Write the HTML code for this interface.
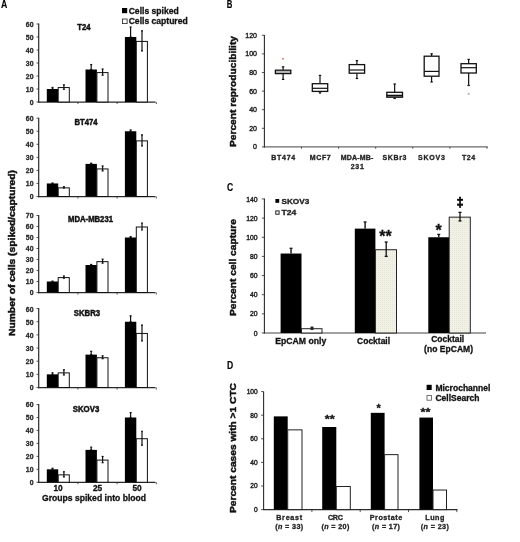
<!DOCTYPE html>
<html lang="en">
<head>
<meta charset="utf-8">
<title>Figure</title>
<style>
html,body{margin:0;padding:0;background:#fff;}
body{width:520px;height:542px;overflow:hidden;}
svg{display:block;font-family:"Liberation Sans",Arial,sans-serif;}
</style>
</head>
<body>
<svg width="520" height="542" viewBox="0 0 520 542">
<defs>
<pattern id="dots" width="2" height="2" patternUnits="userSpaceOnUse">
<rect width="2" height="2" fill="#f1f1e6"/>
<rect width="1" height="1" fill="#e6e6d8"/>
</pattern>
</defs>
<rect width="520" height="542" fill="#fff"/>
<g>
<text x="0.9" y="8" font-size="10.5" text-anchor="start" font-weight="bold" fill="#000" stroke="#000" stroke-width="0.3" textLength="6.3" lengthAdjust="spacingAndGlyphs" style="stroke-width:0.1">A</text>
<rect x="122" y="8" width="5.2" height="5.2" fill="#000"/>
<rect x="122.5" y="19" width="4.6" height="4.6" fill="#fff" stroke="#222" stroke-width="0.8"/>
<text x="128.7" y="13.6" font-size="8.56" text-anchor="start" font-weight="bold" fill="#111" stroke="#111" stroke-width="0.3" textLength="50" lengthAdjust="spacingAndGlyphs">Cells spiked</text>
<text x="128.7" y="24.4" font-size="8.56" text-anchor="start" font-weight="bold" fill="#111" stroke="#111" stroke-width="0.3" textLength="59" lengthAdjust="spacingAndGlyphs">Cells captured</text>
<line x1="38.7" y1="23.5" x2="38.7" y2="102.8" stroke="#2a2a2a" stroke-width="1.2"/>
<line x1="38.1" y1="102.2" x2="155.5" y2="102.2" stroke="#2a2a2a" stroke-width="1.2"/>
<line x1="36.5" y1="102" x2="38.7" y2="102" stroke="#2a2a2a" stroke-width="0.8"/>
<text x="33.5" y="104.9" font-size="6.9" text-anchor="end" font-weight="bold" fill="#2a2a2a" stroke="#2a2a2a" stroke-width="0.3">0</text>
<line x1="36.5" y1="89" x2="38.7" y2="89" stroke="#2a2a2a" stroke-width="0.8"/>
<text x="33.5" y="91.9" font-size="6.9" text-anchor="end" font-weight="bold" fill="#2a2a2a" stroke="#2a2a2a" stroke-width="0.3">10</text>
<line x1="36.5" y1="76" x2="38.7" y2="76" stroke="#2a2a2a" stroke-width="0.8"/>
<text x="33.5" y="78.9" font-size="6.9" text-anchor="end" font-weight="bold" fill="#2a2a2a" stroke="#2a2a2a" stroke-width="0.3">20</text>
<line x1="36.5" y1="63" x2="38.7" y2="63" stroke="#2a2a2a" stroke-width="0.8"/>
<text x="33.5" y="65.9" font-size="6.9" text-anchor="end" font-weight="bold" fill="#2a2a2a" stroke="#2a2a2a" stroke-width="0.3">30</text>
<line x1="36.5" y1="50" x2="38.7" y2="50" stroke="#2a2a2a" stroke-width="0.8"/>
<text x="33.5" y="52.9" font-size="6.9" text-anchor="end" font-weight="bold" fill="#2a2a2a" stroke="#2a2a2a" stroke-width="0.3">40</text>
<line x1="36.5" y1="37" x2="38.7" y2="37" stroke="#2a2a2a" stroke-width="0.8"/>
<text x="33.5" y="39.9" font-size="6.9" text-anchor="end" font-weight="bold" fill="#2a2a2a" stroke="#2a2a2a" stroke-width="0.3">50</text>
<line x1="36.5" y1="24" x2="38.7" y2="24" stroke="#2a2a2a" stroke-width="0.8"/>
<text x="33.5" y="26.9" font-size="6.9" text-anchor="end" font-weight="bold" fill="#2a2a2a" stroke="#2a2a2a" stroke-width="0.3">60</text>
<line x1="77.9" y1="102" x2="77.9" y2="104" stroke="#2a2a2a" stroke-width="0.8"/>
<line x1="117.1" y1="102" x2="117.1" y2="104" stroke="#2a2a2a" stroke-width="0.8"/>
<line x1="156.3" y1="102" x2="156.3" y2="104" stroke="#2a2a2a" stroke-width="0.8"/>
<text x="84" y="30" font-size="8.2" text-anchor="middle" font-weight="bold" fill="#111" stroke="#111" stroke-width="0.3" textLength="13.3" lengthAdjust="spacingAndGlyphs" style="stroke-width:0.45">T24</text>
<rect x="46.8" y="89" width="11.4" height="13" fill="#000"/>
<rect x="58.2" y="87.55" width="11.1" height="14.45" fill="#fff" stroke="#111" stroke-width="1"/>
<line x1="52.5" y1="87.44" x2="52.5" y2="89" stroke="#111" stroke-width="1.2"/>
<line x1="51.5" y1="87.44" x2="53.5" y2="87.44" stroke="#111" stroke-width="1.2"/>
<line x1="51.5" y1="89" x2="53.5" y2="89" stroke="#111" stroke-width="1.2"/>
<line x1="63.9" y1="84.84" x2="63.9" y2="89.26" stroke="#111" stroke-width="1.2"/>
<line x1="62.9" y1="84.84" x2="64.9" y2="84.84" stroke="#111" stroke-width="1.2"/>
<line x1="62.9" y1="89.26" x2="64.9" y2="89.26" stroke="#111" stroke-width="1.2"/>
<rect x="85.5" y="69.5" width="11.4" height="32.5" fill="#000"/>
<rect x="96.9" y="72.6" width="11.1" height="29.4" fill="#fff" stroke="#111" stroke-width="1"/>
<line x1="91.2" y1="64.56" x2="91.2" y2="69.5" stroke="#111" stroke-width="1.2"/>
<line x1="90.2" y1="64.56" x2="92.2" y2="64.56" stroke="#111" stroke-width="1.2"/>
<line x1="90.2" y1="69.5" x2="92.2" y2="69.5" stroke="#111" stroke-width="1.2"/>
<line x1="102.6" y1="68.98" x2="102.6" y2="75.22" stroke="#111" stroke-width="1.2"/>
<line x1="101.6" y1="68.98" x2="103.6" y2="68.98" stroke="#111" stroke-width="1.2"/>
<line x1="101.6" y1="75.22" x2="103.6" y2="75.22" stroke="#111" stroke-width="1.2"/>
<rect x="124.9" y="37" width="11.4" height="65" fill="#000"/>
<rect x="136.3" y="41.4" width="11.1" height="60.6" fill="#fff" stroke="#111" stroke-width="1"/>
<line x1="130.6" y1="26.99" x2="130.6" y2="37" stroke="#111" stroke-width="1.2"/>
<line x1="129.6" y1="26.99" x2="131.6" y2="26.99" stroke="#111" stroke-width="1.2"/>
<line x1="129.6" y1="37" x2="131.6" y2="37" stroke="#111" stroke-width="1.2"/>
<line x1="142" y1="30.89" x2="142" y2="50.91" stroke="#111" stroke-width="1.2"/>
<line x1="141" y1="30.89" x2="143" y2="30.89" stroke="#111" stroke-width="1.2"/>
<line x1="141" y1="50.91" x2="143" y2="50.91" stroke="#111" stroke-width="1.2"/>
<line x1="38.7" y1="117.7" x2="38.7" y2="197.3" stroke="#2a2a2a" stroke-width="1.2"/>
<line x1="38.1" y1="196.7" x2="155.5" y2="196.7" stroke="#2a2a2a" stroke-width="1.2"/>
<line x1="36.5" y1="196.5" x2="38.7" y2="196.5" stroke="#2a2a2a" stroke-width="0.8"/>
<text x="33.5" y="199.4" font-size="6.9" text-anchor="end" font-weight="bold" fill="#2a2a2a" stroke="#2a2a2a" stroke-width="0.3">0</text>
<line x1="36.5" y1="183.45" x2="38.7" y2="183.45" stroke="#2a2a2a" stroke-width="0.8"/>
<text x="33.5" y="186.35" font-size="6.9" text-anchor="end" font-weight="bold" fill="#2a2a2a" stroke="#2a2a2a" stroke-width="0.3">10</text>
<line x1="36.5" y1="170.4" x2="38.7" y2="170.4" stroke="#2a2a2a" stroke-width="0.8"/>
<text x="33.5" y="173.3" font-size="6.9" text-anchor="end" font-weight="bold" fill="#2a2a2a" stroke="#2a2a2a" stroke-width="0.3">20</text>
<line x1="36.5" y1="157.35" x2="38.7" y2="157.35" stroke="#2a2a2a" stroke-width="0.8"/>
<text x="33.5" y="160.25" font-size="6.9" text-anchor="end" font-weight="bold" fill="#2a2a2a" stroke="#2a2a2a" stroke-width="0.3">30</text>
<line x1="36.5" y1="144.3" x2="38.7" y2="144.3" stroke="#2a2a2a" stroke-width="0.8"/>
<text x="33.5" y="147.2" font-size="6.9" text-anchor="end" font-weight="bold" fill="#2a2a2a" stroke="#2a2a2a" stroke-width="0.3">40</text>
<line x1="36.5" y1="131.25" x2="38.7" y2="131.25" stroke="#2a2a2a" stroke-width="0.8"/>
<text x="33.5" y="134.15" font-size="6.9" text-anchor="end" font-weight="bold" fill="#2a2a2a" stroke="#2a2a2a" stroke-width="0.3">50</text>
<line x1="36.5" y1="118.2" x2="38.7" y2="118.2" stroke="#2a2a2a" stroke-width="0.8"/>
<text x="33.5" y="121.1" font-size="6.9" text-anchor="end" font-weight="bold" fill="#2a2a2a" stroke="#2a2a2a" stroke-width="0.3">60</text>
<line x1="77.9" y1="196.5" x2="77.9" y2="198.5" stroke="#2a2a2a" stroke-width="0.8"/>
<line x1="117.1" y1="196.5" x2="117.1" y2="198.5" stroke="#2a2a2a" stroke-width="0.8"/>
<line x1="156.3" y1="196.5" x2="156.3" y2="198.5" stroke="#2a2a2a" stroke-width="0.8"/>
<text x="86" y="125.3" font-size="8.2" text-anchor="middle" font-weight="bold" fill="#111" stroke="#111" stroke-width="0.3" textLength="23" lengthAdjust="spacingAndGlyphs" style="stroke-width:0.45">BT474</text>
<rect x="46.8" y="183.45" width="11.4" height="13.05" fill="#000"/>
<rect x="58.2" y="187.87" width="11.1" height="8.63" fill="#fff" stroke="#111" stroke-width="1"/>
<line x1="52.5" y1="183.06" x2="52.5" y2="183.45" stroke="#111" stroke-width="1.2"/>
<line x1="51.5" y1="183.06" x2="53.5" y2="183.06" stroke="#111" stroke-width="1.2"/>
<line x1="51.5" y1="183.45" x2="53.5" y2="183.45" stroke="#111" stroke-width="1.2"/>
<line x1="63.9" y1="186.71" x2="63.9" y2="188.02" stroke="#111" stroke-width="1.2"/>
<line x1="62.9" y1="186.71" x2="64.9" y2="186.71" stroke="#111" stroke-width="1.2"/>
<line x1="62.9" y1="188.02" x2="64.9" y2="188.02" stroke="#111" stroke-width="1.2"/>
<rect x="85.5" y="163.88" width="11.4" height="32.62" fill="#000"/>
<rect x="96.9" y="168.94" width="11.1" height="27.56" fill="#fff" stroke="#111" stroke-width="1"/>
<line x1="91.2" y1="163.22" x2="91.2" y2="163.88" stroke="#111" stroke-width="1.2"/>
<line x1="90.2" y1="163.22" x2="92.2" y2="163.22" stroke="#111" stroke-width="1.2"/>
<line x1="90.2" y1="163.88" x2="92.2" y2="163.88" stroke="#111" stroke-width="1.2"/>
<line x1="102.6" y1="165.96" x2="102.6" y2="170.92" stroke="#111" stroke-width="1.2"/>
<line x1="101.6" y1="165.96" x2="103.6" y2="165.96" stroke="#111" stroke-width="1.2"/>
<line x1="101.6" y1="170.92" x2="103.6" y2="170.92" stroke="#111" stroke-width="1.2"/>
<rect x="124.9" y="131.25" width="11.4" height="65.25" fill="#000"/>
<rect x="136.3" y="140.88" width="11.1" height="55.61" fill="#fff" stroke="#111" stroke-width="1"/>
<line x1="130.6" y1="129.94" x2="130.6" y2="131.25" stroke="#111" stroke-width="1.2"/>
<line x1="129.6" y1="129.94" x2="131.6" y2="129.94" stroke="#111" stroke-width="1.2"/>
<line x1="129.6" y1="131.25" x2="131.6" y2="131.25" stroke="#111" stroke-width="1.2"/>
<line x1="142" y1="134.9" x2="142" y2="145.87" stroke="#111" stroke-width="1.2"/>
<line x1="141" y1="134.9" x2="143" y2="134.9" stroke="#111" stroke-width="1.2"/>
<line x1="141" y1="145.87" x2="143" y2="145.87" stroke="#111" stroke-width="1.2"/>
<line x1="38.7" y1="215" x2="38.7" y2="293.3" stroke="#2a2a2a" stroke-width="1.2"/>
<line x1="38.1" y1="292.7" x2="155.5" y2="292.7" stroke="#2a2a2a" stroke-width="1.2"/>
<line x1="36.5" y1="292.5" x2="38.7" y2="292.5" stroke="#2a2a2a" stroke-width="0.8"/>
<text x="33.5" y="295.4" font-size="6.9" text-anchor="end" font-weight="bold" fill="#2a2a2a" stroke="#2a2a2a" stroke-width="0.3">0</text>
<line x1="36.5" y1="281.5" x2="38.7" y2="281.5" stroke="#2a2a2a" stroke-width="0.8"/>
<text x="33.5" y="284.4" font-size="6.9" text-anchor="end" font-weight="bold" fill="#2a2a2a" stroke="#2a2a2a" stroke-width="0.3">10</text>
<line x1="36.5" y1="270.5" x2="38.7" y2="270.5" stroke="#2a2a2a" stroke-width="0.8"/>
<text x="33.5" y="273.4" font-size="6.9" text-anchor="end" font-weight="bold" fill="#2a2a2a" stroke="#2a2a2a" stroke-width="0.3">20</text>
<line x1="36.5" y1="259.5" x2="38.7" y2="259.5" stroke="#2a2a2a" stroke-width="0.8"/>
<text x="33.5" y="262.4" font-size="6.9" text-anchor="end" font-weight="bold" fill="#2a2a2a" stroke="#2a2a2a" stroke-width="0.3">30</text>
<line x1="36.5" y1="248.5" x2="38.7" y2="248.5" stroke="#2a2a2a" stroke-width="0.8"/>
<text x="33.5" y="251.4" font-size="6.9" text-anchor="end" font-weight="bold" fill="#2a2a2a" stroke="#2a2a2a" stroke-width="0.3">40</text>
<line x1="36.5" y1="237.5" x2="38.7" y2="237.5" stroke="#2a2a2a" stroke-width="0.8"/>
<text x="33.5" y="240.4" font-size="6.9" text-anchor="end" font-weight="bold" fill="#2a2a2a" stroke="#2a2a2a" stroke-width="0.3">50</text>
<line x1="36.5" y1="226.5" x2="38.7" y2="226.5" stroke="#2a2a2a" stroke-width="0.8"/>
<text x="33.5" y="229.4" font-size="6.9" text-anchor="end" font-weight="bold" fill="#2a2a2a" stroke="#2a2a2a" stroke-width="0.3">60</text>
<line x1="36.5" y1="215.5" x2="38.7" y2="215.5" stroke="#2a2a2a" stroke-width="0.8"/>
<text x="33.5" y="218.4" font-size="6.9" text-anchor="end" font-weight="bold" fill="#2a2a2a" stroke="#2a2a2a" stroke-width="0.3">70</text>
<line x1="77.9" y1="292.5" x2="77.9" y2="294.5" stroke="#2a2a2a" stroke-width="0.8"/>
<line x1="117.1" y1="292.5" x2="117.1" y2="294.5" stroke="#2a2a2a" stroke-width="0.8"/>
<line x1="156.3" y1="292.5" x2="156.3" y2="294.5" stroke="#2a2a2a" stroke-width="0.8"/>
<text x="90.5" y="221.9" font-size="8.2" text-anchor="middle" font-weight="bold" fill="#111" stroke="#111" stroke-width="0.3" textLength="45" lengthAdjust="spacingAndGlyphs" style="stroke-width:0.45">MDA-MB231</text>
<rect x="46.8" y="281.5" width="11.4" height="11" fill="#000"/>
<rect x="58.2" y="277.6" width="11.1" height="14.9" fill="#fff" stroke="#111" stroke-width="1"/>
<line x1="52.5" y1="281.17" x2="52.5" y2="281.5" stroke="#111" stroke-width="1.2"/>
<line x1="51.5" y1="281.17" x2="53.5" y2="281.17" stroke="#111" stroke-width="1.2"/>
<line x1="51.5" y1="281.5" x2="53.5" y2="281.5" stroke="#111" stroke-width="1.2"/>
<line x1="63.9" y1="276" x2="63.9" y2="278.2" stroke="#111" stroke-width="1.2"/>
<line x1="62.9" y1="276" x2="64.9" y2="276" stroke="#111" stroke-width="1.2"/>
<line x1="62.9" y1="278.2" x2="64.9" y2="278.2" stroke="#111" stroke-width="1.2"/>
<rect x="85.5" y="265" width="11.4" height="27.5" fill="#000"/>
<rect x="96.9" y="261.65" width="11.1" height="30.85" fill="#fff" stroke="#111" stroke-width="1"/>
<line x1="91.2" y1="264.45" x2="91.2" y2="265" stroke="#111" stroke-width="1.2"/>
<line x1="90.2" y1="264.45" x2="92.2" y2="264.45" stroke="#111" stroke-width="1.2"/>
<line x1="90.2" y1="265" x2="92.2" y2="265" stroke="#111" stroke-width="1.2"/>
<line x1="102.6" y1="259.17" x2="102.6" y2="263.13" stroke="#111" stroke-width="1.2"/>
<line x1="101.6" y1="259.17" x2="103.6" y2="259.17" stroke="#111" stroke-width="1.2"/>
<line x1="101.6" y1="263.13" x2="103.6" y2="263.13" stroke="#111" stroke-width="1.2"/>
<rect x="124.9" y="237.5" width="11.4" height="55" fill="#000"/>
<rect x="136.3" y="227" width="11.1" height="65.5" fill="#fff" stroke="#111" stroke-width="1"/>
<line x1="130.6" y1="236.62" x2="130.6" y2="237.5" stroke="#111" stroke-width="1.2"/>
<line x1="129.6" y1="236.62" x2="131.6" y2="236.62" stroke="#111" stroke-width="1.2"/>
<line x1="129.6" y1="237.5" x2="131.6" y2="237.5" stroke="#111" stroke-width="1.2"/>
<line x1="142" y1="222.98" x2="142" y2="230.02" stroke="#111" stroke-width="1.2"/>
<line x1="141" y1="222.98" x2="143" y2="222.98" stroke="#111" stroke-width="1.2"/>
<line x1="141" y1="230.02" x2="143" y2="230.02" stroke="#111" stroke-width="1.2"/>
<line x1="38.7" y1="308.1" x2="38.7" y2="388.3" stroke="#2a2a2a" stroke-width="1.2"/>
<line x1="38.1" y1="387.7" x2="155.5" y2="387.7" stroke="#2a2a2a" stroke-width="1.2"/>
<line x1="36.5" y1="387.5" x2="38.7" y2="387.5" stroke="#2a2a2a" stroke-width="0.8"/>
<text x="33.5" y="390.4" font-size="6.9" text-anchor="end" font-weight="bold" fill="#2a2a2a" stroke="#2a2a2a" stroke-width="0.3">0</text>
<line x1="36.5" y1="374.35" x2="38.7" y2="374.35" stroke="#2a2a2a" stroke-width="0.8"/>
<text x="33.5" y="377.25" font-size="6.9" text-anchor="end" font-weight="bold" fill="#2a2a2a" stroke="#2a2a2a" stroke-width="0.3">10</text>
<line x1="36.5" y1="361.2" x2="38.7" y2="361.2" stroke="#2a2a2a" stroke-width="0.8"/>
<text x="33.5" y="364.1" font-size="6.9" text-anchor="end" font-weight="bold" fill="#2a2a2a" stroke="#2a2a2a" stroke-width="0.3">20</text>
<line x1="36.5" y1="348.05" x2="38.7" y2="348.05" stroke="#2a2a2a" stroke-width="0.8"/>
<text x="33.5" y="350.95" font-size="6.9" text-anchor="end" font-weight="bold" fill="#2a2a2a" stroke="#2a2a2a" stroke-width="0.3">30</text>
<line x1="36.5" y1="334.9" x2="38.7" y2="334.9" stroke="#2a2a2a" stroke-width="0.8"/>
<text x="33.5" y="337.8" font-size="6.9" text-anchor="end" font-weight="bold" fill="#2a2a2a" stroke="#2a2a2a" stroke-width="0.3">40</text>
<line x1="36.5" y1="321.75" x2="38.7" y2="321.75" stroke="#2a2a2a" stroke-width="0.8"/>
<text x="33.5" y="324.65" font-size="6.9" text-anchor="end" font-weight="bold" fill="#2a2a2a" stroke="#2a2a2a" stroke-width="0.3">50</text>
<line x1="36.5" y1="308.6" x2="38.7" y2="308.6" stroke="#2a2a2a" stroke-width="0.8"/>
<text x="33.5" y="311.5" font-size="6.9" text-anchor="end" font-weight="bold" fill="#2a2a2a" stroke="#2a2a2a" stroke-width="0.3">60</text>
<line x1="77.9" y1="387.5" x2="77.9" y2="389.5" stroke="#2a2a2a" stroke-width="0.8"/>
<line x1="117.1" y1="387.5" x2="117.1" y2="389.5" stroke="#2a2a2a" stroke-width="0.8"/>
<line x1="156.3" y1="387.5" x2="156.3" y2="389.5" stroke="#2a2a2a" stroke-width="0.8"/>
<text x="87" y="315.7" font-size="8.2" text-anchor="middle" font-weight="bold" fill="#111" stroke="#111" stroke-width="0.3" textLength="26.3" lengthAdjust="spacingAndGlyphs" style="stroke-width:0.45">SKBR3</text>
<rect x="46.8" y="374.35" width="11.4" height="13.15" fill="#000"/>
<rect x="58.2" y="372.88" width="11.1" height="14.62" fill="#fff" stroke="#111" stroke-width="1"/>
<line x1="52.5" y1="372.77" x2="52.5" y2="374.35" stroke="#111" stroke-width="1.2"/>
<line x1="51.5" y1="372.77" x2="53.5" y2="372.77" stroke="#111" stroke-width="1.2"/>
<line x1="51.5" y1="374.35" x2="53.5" y2="374.35" stroke="#111" stroke-width="1.2"/>
<line x1="63.9" y1="369.75" x2="63.9" y2="375.01" stroke="#111" stroke-width="1.2"/>
<line x1="62.9" y1="369.75" x2="64.9" y2="369.75" stroke="#111" stroke-width="1.2"/>
<line x1="62.9" y1="375.01" x2="64.9" y2="375.01" stroke="#111" stroke-width="1.2"/>
<rect x="85.5" y="354.62" width="11.4" height="32.88" fill="#000"/>
<rect x="96.9" y="357.75" width="11.1" height="29.74" fill="#fff" stroke="#111" stroke-width="1"/>
<line x1="91.2" y1="351.34" x2="91.2" y2="354.62" stroke="#111" stroke-width="1.2"/>
<line x1="90.2" y1="351.34" x2="92.2" y2="351.34" stroke="#111" stroke-width="1.2"/>
<line x1="90.2" y1="354.62" x2="92.2" y2="354.62" stroke="#111" stroke-width="1.2"/>
<line x1="102.6" y1="355.81" x2="102.6" y2="358.7" stroke="#111" stroke-width="1.2"/>
<line x1="101.6" y1="355.81" x2="103.6" y2="355.81" stroke="#111" stroke-width="1.2"/>
<line x1="101.6" y1="358.7" x2="103.6" y2="358.7" stroke="#111" stroke-width="1.2"/>
<rect x="124.9" y="321.75" width="11.4" height="65.75" fill="#000"/>
<rect x="136.3" y="333.43" width="11.1" height="54.07" fill="#fff" stroke="#111" stroke-width="1"/>
<line x1="130.6" y1="315.83" x2="130.6" y2="321.75" stroke="#111" stroke-width="1.2"/>
<line x1="129.6" y1="315.83" x2="131.6" y2="315.83" stroke="#111" stroke-width="1.2"/>
<line x1="129.6" y1="321.75" x2="131.6" y2="321.75" stroke="#111" stroke-width="1.2"/>
<line x1="142" y1="325.04" x2="142" y2="340.82" stroke="#111" stroke-width="1.2"/>
<line x1="141" y1="325.04" x2="143" y2="325.04" stroke="#111" stroke-width="1.2"/>
<line x1="141" y1="340.82" x2="143" y2="340.82" stroke="#111" stroke-width="1.2"/>
<line x1="38.7" y1="404.05" x2="38.7" y2="483.05" stroke="#2a2a2a" stroke-width="1.2"/>
<line x1="38.1" y1="482.45" x2="155.5" y2="482.45" stroke="#2a2a2a" stroke-width="1.2"/>
<line x1="36.5" y1="482.25" x2="38.7" y2="482.25" stroke="#2a2a2a" stroke-width="0.8"/>
<text x="33.5" y="485.15" font-size="6.9" text-anchor="end" font-weight="bold" fill="#2a2a2a" stroke="#2a2a2a" stroke-width="0.3">0</text>
<line x1="36.5" y1="469.3" x2="38.7" y2="469.3" stroke="#2a2a2a" stroke-width="0.8"/>
<text x="33.5" y="472.2" font-size="6.9" text-anchor="end" font-weight="bold" fill="#2a2a2a" stroke="#2a2a2a" stroke-width="0.3">10</text>
<line x1="36.5" y1="456.35" x2="38.7" y2="456.35" stroke="#2a2a2a" stroke-width="0.8"/>
<text x="33.5" y="459.25" font-size="6.9" text-anchor="end" font-weight="bold" fill="#2a2a2a" stroke="#2a2a2a" stroke-width="0.3">20</text>
<line x1="36.5" y1="443.4" x2="38.7" y2="443.4" stroke="#2a2a2a" stroke-width="0.8"/>
<text x="33.5" y="446.3" font-size="6.9" text-anchor="end" font-weight="bold" fill="#2a2a2a" stroke="#2a2a2a" stroke-width="0.3">30</text>
<line x1="36.5" y1="430.45" x2="38.7" y2="430.45" stroke="#2a2a2a" stroke-width="0.8"/>
<text x="33.5" y="433.35" font-size="6.9" text-anchor="end" font-weight="bold" fill="#2a2a2a" stroke="#2a2a2a" stroke-width="0.3">40</text>
<line x1="36.5" y1="417.5" x2="38.7" y2="417.5" stroke="#2a2a2a" stroke-width="0.8"/>
<text x="33.5" y="420.4" font-size="6.9" text-anchor="end" font-weight="bold" fill="#2a2a2a" stroke="#2a2a2a" stroke-width="0.3">50</text>
<line x1="36.5" y1="404.55" x2="38.7" y2="404.55" stroke="#2a2a2a" stroke-width="0.8"/>
<text x="33.5" y="407.45" font-size="6.9" text-anchor="end" font-weight="bold" fill="#2a2a2a" stroke="#2a2a2a" stroke-width="0.3">60</text>
<line x1="77.9" y1="482.25" x2="77.9" y2="484.25" stroke="#2a2a2a" stroke-width="0.8"/>
<line x1="117.1" y1="482.25" x2="117.1" y2="484.25" stroke="#2a2a2a" stroke-width="0.8"/>
<line x1="156.3" y1="482.25" x2="156.3" y2="484.25" stroke="#2a2a2a" stroke-width="0.8"/>
<text x="86" y="412" font-size="8.2" text-anchor="middle" font-weight="bold" fill="#111" stroke="#111" stroke-width="0.3" textLength="26.5" lengthAdjust="spacingAndGlyphs" style="stroke-width:0.45">SKOV3</text>
<rect x="46.8" y="469.3" width="11.4" height="12.95" fill="#000"/>
<rect x="58.2" y="474.85" width="11.1" height="7.4" fill="#fff" stroke="#111" stroke-width="1"/>
<line x1="52.5" y1="468.26" x2="52.5" y2="469.3" stroke="#111" stroke-width="1.2"/>
<line x1="51.5" y1="468.26" x2="53.5" y2="468.26" stroke="#111" stroke-width="1.2"/>
<line x1="51.5" y1="469.3" x2="53.5" y2="469.3" stroke="#111" stroke-width="1.2"/>
<line x1="63.9" y1="471.76" x2="63.9" y2="476.94" stroke="#111" stroke-width="1.2"/>
<line x1="62.9" y1="471.76" x2="64.9" y2="471.76" stroke="#111" stroke-width="1.2"/>
<line x1="62.9" y1="476.94" x2="64.9" y2="476.94" stroke="#111" stroke-width="1.2"/>
<rect x="85.5" y="449.88" width="11.4" height="32.38" fill="#000"/>
<rect x="96.9" y="460.09" width="11.1" height="22.16" fill="#fff" stroke="#111" stroke-width="1"/>
<line x1="91.2" y1="447.16" x2="91.2" y2="449.88" stroke="#111" stroke-width="1.2"/>
<line x1="90.2" y1="447.16" x2="92.2" y2="447.16" stroke="#111" stroke-width="1.2"/>
<line x1="90.2" y1="449.88" x2="92.2" y2="449.88" stroke="#111" stroke-width="1.2"/>
<line x1="102.6" y1="456.48" x2="102.6" y2="462.7" stroke="#111" stroke-width="1.2"/>
<line x1="101.6" y1="456.48" x2="103.6" y2="456.48" stroke="#111" stroke-width="1.2"/>
<line x1="101.6" y1="462.7" x2="103.6" y2="462.7" stroke="#111" stroke-width="1.2"/>
<rect x="124.9" y="417.5" width="11.4" height="64.75" fill="#000"/>
<rect x="136.3" y="438.72" width="11.1" height="43.53" fill="#fff" stroke="#111" stroke-width="1"/>
<line x1="130.6" y1="412.58" x2="130.6" y2="417.5" stroke="#111" stroke-width="1.2"/>
<line x1="129.6" y1="412.58" x2="131.6" y2="412.58" stroke="#111" stroke-width="1.2"/>
<line x1="129.6" y1="417.5" x2="131.6" y2="417.5" stroke="#111" stroke-width="1.2"/>
<line x1="142" y1="431.23" x2="142" y2="445.21" stroke="#111" stroke-width="1.2"/>
<line x1="141" y1="431.23" x2="143" y2="431.23" stroke="#111" stroke-width="1.2"/>
<line x1="141" y1="445.21" x2="143" y2="445.21" stroke="#111" stroke-width="1.2"/>
<text x="58" y="490.9" font-size="8.3" text-anchor="middle" font-weight="bold" fill="#111" stroke="#111" stroke-width="0.3">10</text>
<text x="97.5" y="490.9" font-size="8.3" text-anchor="middle" font-weight="bold" fill="#111" stroke="#111" stroke-width="0.3">25</text>
<text x="137" y="490.9" font-size="8.3" text-anchor="middle" font-weight="bold" fill="#111" stroke="#111" stroke-width="0.3">50</text>
<text x="42" y="501.2" font-size="8.59" text-anchor="start" font-weight="bold" fill="#111" stroke="#111" stroke-width="0.3" textLength="104" lengthAdjust="spacingAndGlyphs">Groups spiked into blood</text>
<text x="15.2" y="336" font-size="8.6" text-anchor="start" font-weight="bold" fill="#111" stroke="#111" stroke-width="0.3" textLength="166" lengthAdjust="spacingAndGlyphs" transform="rotate(-90 15.2 336)" style="stroke-width:0.45">Number of cells (spiked/captured)</text>
<text x="226.8" y="8.1" font-size="10.3" text-anchor="start" font-weight="bold" fill="#000" stroke="#000" stroke-width="0.3" textLength="5.6" lengthAdjust="spacingAndGlyphs" style="stroke-width:0.15">B</text>
<line x1="264.4" y1="34.9" x2="264.4" y2="147.4" stroke="#2a2a2a" stroke-width="1.1"/>
<line x1="263.9" y1="146.9" x2="487.7" y2="146.9" stroke="#444" stroke-width="1"/>
<line x1="261.9" y1="146.9" x2="264.4" y2="146.9" stroke="#2a2a2a" stroke-width="0.8"/>
<text x="257" y="149.4" font-size="7" text-anchor="end" font-weight="normal" fill="#222" stroke="#222" stroke-width="0.3" style="stroke-width:0.4">0</text>
<line x1="261.9" y1="128.3" x2="264.4" y2="128.3" stroke="#2a2a2a" stroke-width="0.8"/>
<text x="257" y="130.8" font-size="7" text-anchor="end" font-weight="normal" fill="#222" stroke="#222" stroke-width="0.3" style="stroke-width:0.4">20</text>
<line x1="261.9" y1="109.7" x2="264.4" y2="109.7" stroke="#2a2a2a" stroke-width="0.8"/>
<text x="257" y="112.2" font-size="7" text-anchor="end" font-weight="normal" fill="#222" stroke="#222" stroke-width="0.3" style="stroke-width:0.4">40</text>
<line x1="261.9" y1="91.1" x2="264.4" y2="91.1" stroke="#2a2a2a" stroke-width="0.8"/>
<text x="257" y="93.6" font-size="7" text-anchor="end" font-weight="normal" fill="#222" stroke="#222" stroke-width="0.3" style="stroke-width:0.4">60</text>
<line x1="261.9" y1="72.5" x2="264.4" y2="72.5" stroke="#2a2a2a" stroke-width="0.8"/>
<text x="257" y="75" font-size="7" text-anchor="end" font-weight="normal" fill="#222" stroke="#222" stroke-width="0.3" style="stroke-width:0.4">80</text>
<line x1="261.9" y1="53.9" x2="264.4" y2="53.9" stroke="#2a2a2a" stroke-width="0.8"/>
<text x="257" y="56.4" font-size="7" text-anchor="end" font-weight="normal" fill="#222" stroke="#222" stroke-width="0.3" style="stroke-width:0.4">100</text>
<line x1="261.9" y1="35.3" x2="264.4" y2="35.3" stroke="#2a2a2a" stroke-width="0.8"/>
<text x="257" y="37.8" font-size="7" text-anchor="end" font-weight="normal" fill="#222" stroke="#222" stroke-width="0.3" style="stroke-width:0.4">120</text>
<line x1="301.5" y1="146.9" x2="301.5" y2="148.7" stroke="#2a2a2a" stroke-width="0.8"/>
<line x1="338.6" y1="146.9" x2="338.6" y2="148.7" stroke="#2a2a2a" stroke-width="0.8"/>
<line x1="375.7" y1="146.9" x2="375.7" y2="148.7" stroke="#2a2a2a" stroke-width="0.8"/>
<line x1="412.8" y1="146.9" x2="412.8" y2="148.7" stroke="#2a2a2a" stroke-width="0.8"/>
<line x1="449.9" y1="146.9" x2="449.9" y2="148.7" stroke="#2a2a2a" stroke-width="0.8"/>
<line x1="487" y1="146.9" x2="487" y2="148.7" stroke="#2a2a2a" stroke-width="0.8"/>
<line x1="283.1" y1="66.8" x2="283.1" y2="70.2" stroke="#111" stroke-width="1.2"/>
<line x1="283.1" y1="73.6" x2="283.1" y2="79.4" stroke="#111" stroke-width="1.2"/>
<line x1="281.9" y1="66.8" x2="284.3" y2="66.8" stroke="#111" stroke-width="1.2"/>
<line x1="281.9" y1="79.4" x2="284.3" y2="79.4" stroke="#111" stroke-width="1.2"/>
<rect x="275.4" y="70.2" width="15.4" height="3.4" fill="#fff" stroke="#111" stroke-width="1.3"/>
<line x1="275.4" y1="72" x2="290.8" y2="72" stroke="#111" stroke-width="0.6"/>
<line x1="320" y1="75.4" x2="320" y2="83.7" stroke="#111" stroke-width="1.2"/>
<line x1="320" y1="91.4" x2="320" y2="93" stroke="#111" stroke-width="1.2"/>
<line x1="318.8" y1="75.4" x2="321.2" y2="75.4" stroke="#111" stroke-width="1.2"/>
<line x1="318.8" y1="93" x2="321.2" y2="93" stroke="#111" stroke-width="1.2"/>
<rect x="312.3" y="83.7" width="15.4" height="7.7" fill="#fff" stroke="#111" stroke-width="1.3"/>
<line x1="312.3" y1="88.3" x2="327.7" y2="88.3" stroke="#111" stroke-width="1.2"/>
<line x1="356.9" y1="60.6" x2="356.9" y2="64.6" stroke="#111" stroke-width="1.2"/>
<line x1="356.9" y1="73.2" x2="356.9" y2="78.5" stroke="#111" stroke-width="1.2"/>
<line x1="355.7" y1="60.6" x2="358.1" y2="60.6" stroke="#111" stroke-width="1.2"/>
<line x1="355.7" y1="78.5" x2="358.1" y2="78.5" stroke="#111" stroke-width="1.2"/>
<rect x="349.2" y="64.6" width="15.4" height="8.6" fill="#fff" stroke="#111" stroke-width="1.3"/>
<line x1="349.2" y1="70" x2="364.6" y2="70" stroke="#111" stroke-width="1.2"/>
<line x1="394.65" y1="84" x2="394.65" y2="92.3" stroke="#111" stroke-width="1.2"/>
<line x1="394.65" y1="97.2" x2="394.65" y2="98.5" stroke="#111" stroke-width="1.2"/>
<line x1="393.45" y1="84" x2="395.85" y2="84" stroke="#111" stroke-width="1.2"/>
<line x1="393.45" y1="98.5" x2="395.85" y2="98.5" stroke="#111" stroke-width="1.2"/>
<rect x="386.8" y="92.3" width="15.7" height="4.9" fill="#fff" stroke="#111" stroke-width="1.3"/>
<line x1="386.8" y1="95.6" x2="402.5" y2="95.6" stroke="#111" stroke-width="1.8"/>
<line x1="431.6" y1="53.8" x2="431.6" y2="56.2" stroke="#111" stroke-width="1.2"/>
<line x1="431.6" y1="76.2" x2="431.6" y2="82" stroke="#111" stroke-width="1.2"/>
<line x1="430.4" y1="53.8" x2="432.8" y2="53.8" stroke="#111" stroke-width="1.2"/>
<line x1="430.4" y1="82" x2="432.8" y2="82" stroke="#111" stroke-width="1.2"/>
<rect x="424.2" y="56.2" width="14.8" height="20" fill="#fff" stroke="#111" stroke-width="1.3"/>
<line x1="424.2" y1="71.4" x2="439" y2="71.4" stroke="#111" stroke-width="1.2"/>
<line x1="468.65" y1="59.4" x2="468.65" y2="63.7" stroke="#111" stroke-width="1.2"/>
<line x1="468.65" y1="73" x2="468.65" y2="85.5" stroke="#111" stroke-width="1.2"/>
<line x1="467.45" y1="59.4" x2="469.85" y2="59.4" stroke="#111" stroke-width="1.2"/>
<line x1="467.45" y1="85.5" x2="469.85" y2="85.5" stroke="#111" stroke-width="1.2"/>
<rect x="461" y="63.7" width="15.3" height="9.3" fill="#fff" stroke="#111" stroke-width="1.3"/>
<line x1="461" y1="67.7" x2="476.3" y2="67.7" stroke="#111" stroke-width="1.2"/>
<text x="283" y="60" font-size="4" text-anchor="middle" font-weight="normal" fill="#d77" stroke="#d77" stroke-width="0.3">×</text>
<text x="468.6" y="95.3" font-size="4" text-anchor="middle" font-weight="normal" fill="#a99" stroke="#a99" stroke-width="0.3">×</text>
<text x="283.2" y="160" font-size="7" text-anchor="middle" font-weight="bold" fill="#222" stroke="#222" stroke-width="0.3" textLength="24" lengthAdjust="spacing">BT474</text>
<text x="320.2" y="160" font-size="7" text-anchor="middle" font-weight="bold" fill="#222" stroke="#222" stroke-width="0.3" textLength="21" lengthAdjust="spacing">MCF7</text>
<text x="357" y="160" font-size="7" text-anchor="middle" font-weight="bold" fill="#222" stroke="#222" stroke-width="0.3" textLength="32.5" lengthAdjust="spacing">MDA-MB-</text>
<text x="394.5" y="160" font-size="7" text-anchor="middle" font-weight="bold" fill="#222" stroke="#222" stroke-width="0.3" textLength="24" lengthAdjust="spacing">SKBr3</text>
<text x="431.5" y="160" font-size="7" text-anchor="middle" font-weight="bold" fill="#222" stroke="#222" stroke-width="0.3" textLength="27" lengthAdjust="spacing">SKOV3</text>
<text x="468.6" y="160" font-size="7" text-anchor="middle" font-weight="bold" fill="#222" stroke="#222" stroke-width="0.3" textLength="13" lengthAdjust="spacing">T24</text>
<text x="357.3" y="169" font-size="7" text-anchor="middle" font-weight="bold" fill="#222" stroke="#222" stroke-width="0.3" textLength="13" lengthAdjust="spacing">231</text>
<text x="235.5" y="147" font-size="9.3" text-anchor="start" font-weight="bold" fill="#111" stroke="#111" stroke-width="0.3" textLength="111" lengthAdjust="spacingAndGlyphs" transform="rotate(-90 235.5 147)" style="stroke-width:0.45">Percent reproducibility</text>
<text x="227" y="191" font-size="10.6" text-anchor="start" font-weight="bold" fill="#000" stroke="#000" stroke-width="0.3" textLength="6.2" lengthAdjust="spacingAndGlyphs" style="stroke-width:0.15">C</text>
<line x1="264.4" y1="198.5" x2="264.4" y2="333.5" stroke="#2a2a2a" stroke-width="1.1"/>
<line x1="263.9" y1="333" x2="486" y2="333" stroke="#444" stroke-width="1"/>
<line x1="261.8" y1="333" x2="264.4" y2="333" stroke="#2a2a2a" stroke-width="0.8"/>
<text x="257.6" y="335.6" font-size="6.8" text-anchor="end" font-weight="normal" fill="#222" stroke="#222" stroke-width="0.3" style="stroke-width:0.4">0</text>
<line x1="261.8" y1="313.85" x2="264.4" y2="313.85" stroke="#2a2a2a" stroke-width="0.8"/>
<text x="257.6" y="316.45" font-size="6.8" text-anchor="end" font-weight="normal" fill="#222" stroke="#222" stroke-width="0.3" style="stroke-width:0.4">20</text>
<line x1="261.8" y1="294.7" x2="264.4" y2="294.7" stroke="#2a2a2a" stroke-width="0.8"/>
<text x="257.6" y="297.3" font-size="6.8" text-anchor="end" font-weight="normal" fill="#222" stroke="#222" stroke-width="0.3" style="stroke-width:0.4">40</text>
<line x1="261.8" y1="275.55" x2="264.4" y2="275.55" stroke="#2a2a2a" stroke-width="0.8"/>
<text x="257.6" y="278.15" font-size="6.8" text-anchor="end" font-weight="normal" fill="#222" stroke="#222" stroke-width="0.3" style="stroke-width:0.4">60</text>
<line x1="261.8" y1="256.4" x2="264.4" y2="256.4" stroke="#2a2a2a" stroke-width="0.8"/>
<text x="257.6" y="259" font-size="6.8" text-anchor="end" font-weight="normal" fill="#222" stroke="#222" stroke-width="0.3" style="stroke-width:0.4">80</text>
<line x1="261.8" y1="237.25" x2="264.4" y2="237.25" stroke="#2a2a2a" stroke-width="0.8"/>
<text x="257.6" y="239.85" font-size="6.8" text-anchor="end" font-weight="normal" fill="#222" stroke="#222" stroke-width="0.3" style="stroke-width:0.4">100</text>
<line x1="261.8" y1="218.1" x2="264.4" y2="218.1" stroke="#2a2a2a" stroke-width="0.8"/>
<text x="257.6" y="220.7" font-size="6.8" text-anchor="end" font-weight="normal" fill="#222" stroke="#222" stroke-width="0.3" style="stroke-width:0.4">120</text>
<line x1="261.8" y1="198.95" x2="264.4" y2="198.95" stroke="#2a2a2a" stroke-width="0.8"/>
<text x="257.6" y="201.55" font-size="6.8" text-anchor="end" font-weight="normal" fill="#222" stroke="#222" stroke-width="0.3" style="stroke-width:0.4">140</text>
<rect x="280.6" y="253.53" width="20.9" height="79.47" fill="#000"/>
<rect x="301.5" y="328.71" width="20.5" height="4.29" fill="#fff" stroke="#222" stroke-width="1"/>
<line x1="291.05" y1="248.26" x2="291.05" y2="253.53" stroke="#111" stroke-width="1.4"/>
<line x1="289.55" y1="248.26" x2="292.55" y2="248.26" stroke="#111" stroke-width="1.2"/>
<line x1="312" y1="327.25" x2="312" y2="329.17" stroke="#111" stroke-width="1.3"/>
<line x1="310.5" y1="327.25" x2="313.5" y2="327.25" stroke="#111" stroke-width="1.3"/>
<line x1="310.5" y1="329.17" x2="313.5" y2="329.17" stroke="#111" stroke-width="1.3"/>
<rect x="354.8" y="228.63" width="20.6" height="104.37" fill="#000"/>
<rect x="375.4" y="249.72" width="21.1" height="83.28" fill="url(#dots)" stroke="#222" stroke-width="1"/>
<line x1="365.1" y1="221.93" x2="365.1" y2="228.63" stroke="#111" stroke-width="1.4"/>
<line x1="363.6" y1="221.93" x2="366.6" y2="221.93" stroke="#111" stroke-width="1.2"/>
<line x1="386.2" y1="242.04" x2="386.2" y2="256.4" stroke="#111" stroke-width="1.3"/>
<line x1="384.7" y1="242.04" x2="387.7" y2="242.04" stroke="#111" stroke-width="1.3"/>
<line x1="384.7" y1="256.4" x2="387.7" y2="256.4" stroke="#111" stroke-width="1.3"/>
<rect x="428.3" y="237.25" width="20.9" height="95.75" fill="#000"/>
<rect x="449.2" y="217.16" width="21.1" height="115.84" fill="url(#dots)" stroke="#222" stroke-width="1"/>
<line x1="438.75" y1="234.38" x2="438.75" y2="237.25" stroke="#111" stroke-width="1.4"/>
<line x1="437.25" y1="234.38" x2="440.25" y2="234.38" stroke="#111" stroke-width="1.2"/>
<line x1="460" y1="212.35" x2="460" y2="220.97" stroke="#111" stroke-width="1.3"/>
<line x1="458.5" y1="212.35" x2="461.5" y2="212.35" stroke="#111" stroke-width="1.3"/>
<line x1="458.5" y1="220.97" x2="461.5" y2="220.97" stroke="#111" stroke-width="1.3"/>
<rect x="275.4" y="199" width="3.8" height="3.8" fill="#000"/>
<rect x="275.8" y="210.9" width="3.3" height="3.3" fill="#fff" stroke="#222" stroke-width="1"/>
<text x="281.5" y="203.6" font-size="7" text-anchor="start" font-weight="bold" fill="#222" stroke="#222" stroke-width="0.3" textLength="27.7" lengthAdjust="spacingAndGlyphs">SKOV3</text>
<text x="281.5" y="215.4" font-size="7" text-anchor="start" font-weight="bold" fill="#222" stroke="#222" stroke-width="0.3" textLength="14.8" lengthAdjust="spacingAndGlyphs">T24</text>
<text x="385.4" y="241.6" font-size="16" text-anchor="middle" font-weight="bold" fill="#111" stroke="#111" stroke-width="0.3" textLength="12.4" lengthAdjust="spacingAndGlyphs">**</text>
<text x="438.5" y="236.1" font-size="16" text-anchor="middle" font-weight="bold" fill="#111" stroke="#111" stroke-width="0.3">*</text>
<text x="460" y="205.8" font-size="12" text-anchor="middle" font-weight="bold" fill="#000" stroke="#000" stroke-width="0.3" style="stroke-width:0.7">‡</text>
<text x="300.8" y="344.4" font-size="8.6" text-anchor="middle" font-weight="bold" fill="#111" stroke="#111" stroke-width="0.3" textLength="51" lengthAdjust="spacingAndGlyphs">EpCAM only</text>
<text x="373.6" y="344.4" font-size="8.6" text-anchor="middle" font-weight="bold" fill="#111" stroke="#111" stroke-width="0.3" textLength="33" lengthAdjust="spacingAndGlyphs">Cocktail</text>
<text x="447.7" y="342" font-size="8.6" text-anchor="middle" font-weight="bold" fill="#111" stroke="#111" stroke-width="0.3" textLength="33" lengthAdjust="spacingAndGlyphs">Cocktail</text>
<text x="448.6" y="352.4" font-size="8.6" text-anchor="middle" font-weight="bold" fill="#111" stroke="#111" stroke-width="0.3" textLength="49" lengthAdjust="spacingAndGlyphs">(no EpCAM)</text>
<text x="235.9" y="316" font-size="9.3" text-anchor="start" font-weight="bold" fill="#111" stroke="#111" stroke-width="0.3" textLength="97" lengthAdjust="spacingAndGlyphs" transform="rotate(-90 235.9 316)" style="stroke-width:0.45">Percent cell capture</text>
<text x="227" y="368.5" font-size="10.8" text-anchor="start" font-weight="bold" fill="#000" stroke="#000" stroke-width="0.3" textLength="6.2" lengthAdjust="spacingAndGlyphs" style="stroke-width:0.15">D</text>
<line x1="263.6" y1="391.5" x2="263.6" y2="510.1" stroke="#2a2a2a" stroke-width="1.1"/>
<line x1="263.1" y1="509.6" x2="457.5" y2="509.6" stroke="#2a2a2a" stroke-width="1.1"/>
<line x1="261.1" y1="509.6" x2="263.6" y2="509.6" stroke="#2a2a2a" stroke-width="0.8"/>
<text x="257.7" y="512" font-size="6.6" text-anchor="end" font-weight="normal" fill="#222" stroke="#222" stroke-width="0.3" style="stroke-width:0.4">0</text>
<line x1="261.1" y1="486" x2="263.6" y2="486" stroke="#2a2a2a" stroke-width="0.8"/>
<text x="257.7" y="488.4" font-size="6.6" text-anchor="end" font-weight="normal" fill="#222" stroke="#222" stroke-width="0.3" style="stroke-width:0.4">20</text>
<line x1="261.1" y1="462.4" x2="263.6" y2="462.4" stroke="#2a2a2a" stroke-width="0.8"/>
<text x="257.7" y="464.8" font-size="6.6" text-anchor="end" font-weight="normal" fill="#222" stroke="#222" stroke-width="0.3" style="stroke-width:0.4">40</text>
<line x1="261.1" y1="438.8" x2="263.6" y2="438.8" stroke="#2a2a2a" stroke-width="0.8"/>
<text x="257.7" y="441.2" font-size="6.6" text-anchor="end" font-weight="normal" fill="#222" stroke="#222" stroke-width="0.3" style="stroke-width:0.4">60</text>
<line x1="261.1" y1="415.2" x2="263.6" y2="415.2" stroke="#2a2a2a" stroke-width="0.8"/>
<text x="257.7" y="417.6" font-size="6.6" text-anchor="end" font-weight="normal" fill="#222" stroke="#222" stroke-width="0.3" style="stroke-width:0.4">80</text>
<line x1="261.1" y1="391.6" x2="263.6" y2="391.6" stroke="#2a2a2a" stroke-width="0.8"/>
<text x="257.7" y="394" font-size="6.6" text-anchor="end" font-weight="normal" fill="#222" stroke="#222" stroke-width="0.3" style="stroke-width:0.4">100</text>
<line x1="311.9" y1="509.6" x2="311.9" y2="512.1" stroke="#2a2a2a" stroke-width="0.8"/>
<line x1="360.2" y1="509.6" x2="360.2" y2="512.1" stroke="#2a2a2a" stroke-width="0.8"/>
<line x1="408.5" y1="509.6" x2="408.5" y2="512.1" stroke="#2a2a2a" stroke-width="0.8"/>
<line x1="456.8" y1="509.6" x2="456.8" y2="512.1" stroke="#2a2a2a" stroke-width="0.8"/>
<rect x="273.8" y="416.38" width="13.9" height="93.22" fill="#000"/>
<rect x="287.7" y="429.86" width="14.3" height="79.74" fill="#fff" stroke="#222" stroke-width="1"/>
<rect x="322.2" y="427" width="14.1" height="82.6" fill="#000"/>
<rect x="336.3" y="486.5" width="14" height="23.1" fill="#fff" stroke="#222" stroke-width="1"/>
<rect x="370.8" y="412.84" width="13.8" height="96.76" fill="#000"/>
<rect x="384.6" y="454.64" width="13.4" height="54.96" fill="#fff" stroke="#222" stroke-width="1"/>
<rect x="419.4" y="417.56" width="13.6" height="92.04" fill="#000"/>
<rect x="433" y="490.04" width="13.5" height="19.56" fill="#fff" stroke="#222" stroke-width="1"/>
<text x="329.75" y="422.9" font-size="11" text-anchor="middle" font-weight="bold" fill="#111" stroke="#111" stroke-width="0.3" textLength="10" lengthAdjust="spacingAndGlyphs">**</text>
<text x="378.75" y="411.9" font-size="11" text-anchor="middle" font-weight="bold" fill="#111" stroke="#111" stroke-width="0.3">*</text>
<text x="425.5" y="415.8" font-size="11" text-anchor="middle" font-weight="bold" fill="#111" stroke="#111" stroke-width="0.3" textLength="10" lengthAdjust="spacingAndGlyphs">**</text>
<rect x="426.6" y="384.8" width="5.1" height="5.2" fill="#000"/>
<rect x="427" y="395.4" width="4.4" height="4.8" fill="#fff" stroke="#555" stroke-width="0.8"/>
<text x="435.4" y="390.6" font-size="8.5" text-anchor="start" font-weight="bold" fill="#111" stroke="#111" stroke-width="0.3" textLength="55" lengthAdjust="spacingAndGlyphs">Microchannel</text>
<text x="435.4" y="401.2" font-size="8.5" text-anchor="start" font-weight="bold" fill="#111" stroke="#111" stroke-width="0.3" textLength="44" lengthAdjust="spacingAndGlyphs">CellSearch</text>
<text x="289.2" y="519.6" font-size="7.2" text-anchor="middle" font-weight="bold" fill="#222" stroke="#222" stroke-width="0.3" textLength="26" lengthAdjust="spacing">Breast</text>
<text x="289.2" y="528.8" font-size="7.2" text-anchor="middle" font-weight="bold" fill="#222" stroke="#222" stroke-width="0.3" textLength="28" lengthAdjust="spacing">(<tspan font-style="italic">n</tspan> = 33)</text>
<text x="335.4" y="519.6" font-size="7.2" text-anchor="middle" font-weight="bold" fill="#222" stroke="#222" stroke-width="0.3" textLength="15" lengthAdjust="spacing">CRC</text>
<text x="335.4" y="528.8" font-size="7.2" text-anchor="middle" font-weight="bold" fill="#222" stroke="#222" stroke-width="0.3" textLength="28" lengthAdjust="spacing">(<tspan font-style="italic">n</tspan> = 20)</text>
<text x="386" y="519.6" font-size="7.2" text-anchor="middle" font-weight="bold" fill="#222" stroke="#222" stroke-width="0.3" textLength="32.6" lengthAdjust="spacing">Prostate</text>
<text x="386" y="528.8" font-size="7.2" text-anchor="middle" font-weight="bold" fill="#222" stroke="#222" stroke-width="0.3" textLength="28" lengthAdjust="spacing">(<tspan font-style="italic">n</tspan> = 17)</text>
<text x="434.8" y="519.6" font-size="7.2" text-anchor="middle" font-weight="bold" fill="#222" stroke="#222" stroke-width="0.3" textLength="19" lengthAdjust="spacing">Lung</text>
<text x="434.8" y="528.8" font-size="7.2" text-anchor="middle" font-weight="bold" fill="#222" stroke="#222" stroke-width="0.3" textLength="28" lengthAdjust="spacing">(<tspan font-style="italic">n</tspan> = 23)</text>
<text x="235.6" y="513" font-size="9.3" text-anchor="start" font-weight="bold" fill="#111" stroke="#111" stroke-width="0.3" textLength="130" lengthAdjust="spacingAndGlyphs" transform="rotate(-90 235.6 513)" style="stroke-width:0.45">Percent cases with &gt;1 CTC</text>
</g>
</svg>
</body>
</html>
